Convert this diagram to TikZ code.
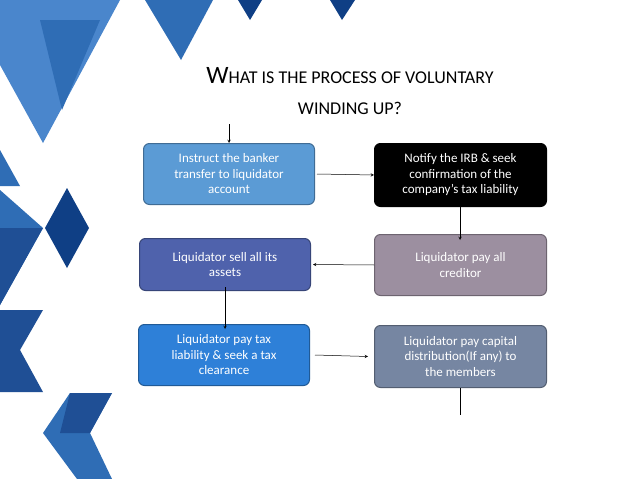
\documentclass[tikz,border=0pt]{standalone}
\usepackage{fontspec}
\setmainfont{Carlito}
\begin{document}
\begin{tikzpicture}[x=1pt,y=-1pt,
 box/.style={rounded corners=6pt,draw=#1!70!black,line width=1pt,text=white,align=center,font=\fontsize{13}{15.5}\selectfont,anchor=north west,inner sep=0pt},
 arr/.style={->,>=stealth,line width=0.5pt},
 big/.style={font=\fontsize{25}{30}\selectfont}]
\useasboundingbox (0,0) rectangle (638,479);
\fill[white] (0,0) rectangle (638,479);
% decoration
\definecolor{dA}{HTML}{2F6DB5}\definecolor{dB}{HTML}{1F4F95}\definecolor{dC}{HTML}{4A86CC}\definecolor{dD}{HTML}{0F3F85}
\fill[dC] (0,0)--(120,0)--(43,143)--(0,65)--cycle;
\fill[dA] (40,20)--(100,20)--(62,110)--cycle;
\fill[dA] (145,0)--(213,0)--(181,60)--cycle;
\fill[dD] (238,0)--(262,0)--(250,20)--cycle;
\fill[dD] (330,0)--(355,0)--(342,20)--cycle;
\fill[dA] (0,150)--(20,186)--(0,186)--cycle;
\fill[dA] (0,190)--(43,228)--(0,305)--cycle;
\fill[dB] (0,228)--(43,228)--(0,305)--cycle;
\fill[dD] (45,228)--(67,188)--(89,228)--(67,268)--cycle;
\fill[dB] (0,310)--(43,310)--(20,350)--(43,392)--(0,392)--cycle;
\fill[dA] (43,433)--(70,393)--(112,393)--(90,433)--(112,479)--(77,479)--cycle;
\fill[dB] (70,393)--(112,393)--(90,433)--(60,433)--cycle;
% title
\node[font=\fontsize{18}{22}\selectfont] (t1) at (350,76) {{\fontsize{25}{30}\selectfont W}HAT IS THE PROCESS OF VOLUNTARY};
\node[font=\fontsize{18}{22}\selectfont] (t2) at (350,108) {WINDING UP?};
% boxes
\definecolor{c1}{HTML}{5B9BD5}\definecolor{c2}{HTML}{000000}\definecolor{c3}{HTML}{4F62AC}
\definecolor{c4}{HTML}{9C8FA0}\definecolor{c5}{HTML}{2E80D8}\definecolor{c6}{HTML}{7686A2}
\node[box=c1,fill=c1,minimum width=171,minimum height=61] (b1) at (143,143) {Instruct the banker\\transfer to liquidator\\account};
\node[box=c2,fill=c2,draw=black,minimum width=172,minimum height=63] (b2) at (374,143) {Notify the IRB \& seek\\confirmation of the\\company’s tax liability};
\node[box=c3,fill=c3,minimum width=171,minimum height=52] (b3) at (139,238) {Liquidator sell all its\\assets};
\node[box=c4,fill=c4,minimum width=172,minimum height=61] (b4) at (374,234) {Liquidator pay all\\creditor};
\node[box=c5,fill=c5,minimum width=171,minimum height=61] (b5) at (138,324) {Liquidator pay tax\\liability \& seek a tax\\clearance};
\node[box=c6,fill=c6,minimum width=172,minimum height=62] (b6) at (374,325) {Liquidator pay capital\\distribution(If any) to\\the members};
\coordinate (s) at (229,124);
\coordinate (e) at (460,415);
\draw[arr] (s) -- (b1.north -| s);
\draw[arr] ([xshift=2pt]b1.east) -- (b2.west);
\draw[arr] (b2.south -| 460,0) -- ([yshift=-6pt]b4.north -| 460,0);
\draw[arr] (b4.west) -- ([xshift=2pt]b3.east);
\draw[arr] ([yshift=4pt]b3.south -| 225,0) -- ([yshift=-5pt]b5.north -| 225,0);
\draw[arr] ([xshift=5pt]b5.east) -- ([xshift=-6pt]b6.west);
\draw[line width=0.5pt] (b6.south -| e) -- (e);
\end{tikzpicture}
\end{document}
